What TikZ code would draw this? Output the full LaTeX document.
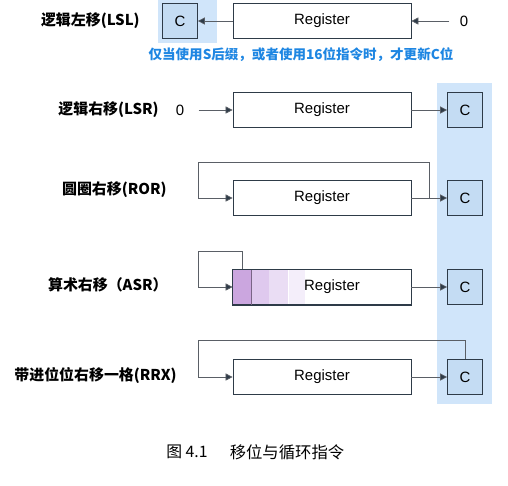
\documentclass[tikz,border=0pt]{standalone}
\usepackage{fontspec}
\setmainfont{Liberation Sans}
\newfontfamily\cjk{Noto Sans CJK SC}
\usetikzlibrary{arrows.meta}

\definecolor{bandblue}{HTML}{D0E5FA}
\definecolor{cfill}{HTML}{C4DCF3}
\definecolor{edgec}{HTML}{2E3B48}
\definecolor{linec}{HTML}{5A5F66}
\definecolor{noteblue}{HTML}{1E86E2}
\definecolor{purA}{HTML}{CBA6DF}
\definecolor{purB}{HTML}{DFC9EE}
\definecolor{purC}{HTML}{EADDF4}
\definecolor{purD}{HTML}{F4EEFA}

\tikzset{
  regbox/.style={draw=edgec, fill=white, minimum width=3.56cm, minimum height=0.7cm,
    inner sep=0pt, font=\fontsize{8.5}{10}\selectfont},
  cbox/.style={draw=edgec, fill=cfill, minimum size=0.7cm, inner sep=0pt,
    font=\fontsize{8.5}{10}\selectfont},
  rowlabel/.style={anchor=east, inner sep=0pt, font=\cjk\bfseries\fontsize{8.5}{10}\selectfont},
  zero/.style={inner sep=0pt, font=\fontsize{8.5}{10}\selectfont},
  cell/.style={anchor=west, inner sep=0pt, minimum height=0.69cm, minimum width=0.36cm},
  shiftline/.style={draw=linec, -{Triangle[length=4pt,width=4pt,fill=edgec]}}
}

\begin{document}
\begin{tikzpicture}[x=0.02cm,y=-0.02cm]
\useasboundingbox (0,0) rectangle (508,485);

% blue bands for the carry flag
\fill[bandblue] (158,0) rectangle (217,43);
\fill[bandblue] (437,83) rectangle (492,404);

% LSL
\node[rowlabel] (lslname) at (140,21) {逻辑左移(LSL)};
\node[cbox] (cL) at (180,21) {C};
\node[regbox] (rL) at (322,21) {Register};
\node[zero] (zL) at (464,21) {0};
\draw[shiftline] (zL.west) ++(-10,0) -- (rL.east);
\draw[shiftline] (rL.west) -- (cL.east);
\node[font=\cjk\bfseries\fontsize{7.7}{9}\selectfont, text=noteblue] (note) at (301,55)
  {仅当使用S后缀，或者使用16位指令时，才更新C位};

% LSR
\node[rowlabel] (lsrname) at (159,110) {逻辑右移(LSR)};
\node[zero] (zR) at (180,110) {0};
\node[regbox] (rR) at (322,110) {Register};
\node[cbox] (cR) at (465,110) {C};
\draw[shiftline] (zR.east) ++(14,0) -- (rR.west);
\draw[shiftline] (rR.east) -- (cR.west);

% ROR
\node[rowlabel] (rorname) at (167,190) {圆圈右移(ROR)};
\node[regbox] (rO) at (322,198) {Register};
\node[cbox] (cO) at (465,198) {C};
\coordinate (tapO) at (429,198);
\draw[shiftline] (rO.east) -- (cO.west);
\draw[shiftline] (tapO) -- ++(0,-36) -- ++(-231,0) |- (rO.west);

% ASR
\node[rowlabel] (asrname) at (168,285) {算术右移（ASR）};
\node[regbox] (rA) at (322,287) {\hspace{0.4cm}Register};
\node[cell, fill=purA] (a1) at (rA.west) {};
\node[cell, fill=purB, minimum width=0.34cm] (a2) at (a1.east) {};
\node[cell, fill=purC, minimum width=0.38cm] (a3) at (a2.east) {};
\node[cell, fill=purD, minimum width=0.32cm] (a4) at (a3.east) {};
\draw[draw=purA!60!black] (a1.north east) -- (a1.south east);
\draw[edgec] (rA.south west) rectangle (rA.north east);
\node[cbox] (cA) at (465,287) {C};
\draw[shiftline] (rA.east) -- (cA.west);
\draw[shiftline] (a1.north) -- ++(0,-18) -- ++(-44,0) |- (rA.west);

% RRX
\node[rowlabel] (rrxname) at (177,375) {带进位位右移一格(RRX)};
\node[regbox] (rX) at (322,377) {Register};
\node[cbox] (cX) at (465,377) {C};
\draw[shiftline] (rX.east) -- (cX.west);
\draw[shiftline] (cX.north) -- ++(0,-19) -- ++(-267,0) |- (rX.west);

% caption
\node[font=\cjk\fontsize{9}{11}\selectfont] (figno) at (187,452) {图 4.1};
\node[font=\cjk\fontsize{9.3}{11}\selectfont] (figcap) at (287,452) {移位与循环指令};
\end{tikzpicture}
\end{document}
